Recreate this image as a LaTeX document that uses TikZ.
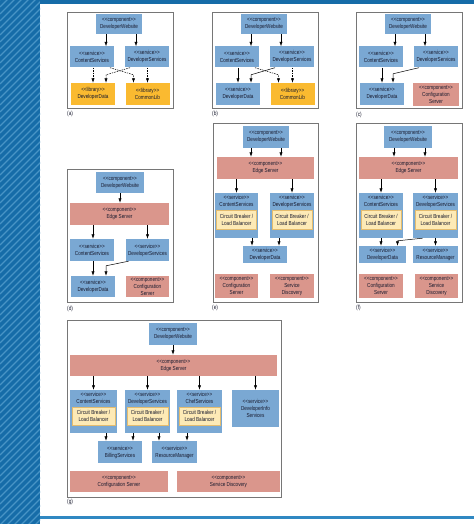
\documentclass[tikz,border=0pt]{standalone}
\usepackage{fontspec}
\newfontfamily\boxfont{Liberation Sans}[FakeStretch=0.8]
\usetikzlibrary{arrows.meta}
\definecolor{svcblue}{RGB}{122,168,211}
\definecolor{compred}{RGB}{218,150,140}
\definecolor{libyellow}{RGB}{250,186,48}
\definecolor{cbcream}{RGB}{253,234,182}
\definecolor{cbedge}{RGB}{228,188,110}
\definecolor{frmgray}{RGB}{118,118,118}
\definecolor{textdark}{RGB}{24,26,46}
\definecolor{edgeblue}{RGB}{22,108,168}
\definecolor{stripeblue}{RGB}{72,148,198}
\definecolor{lineblue}{RGB}{48,136,194}

\begin{document}
\begin{tikzpicture}
  [
    x = 1pt, y = -1pt,
    every node/.style = {inner sep=0pt, align=center, text=textdark,
                         font=\boxfont\fontsize{5.8}{7}\selectfont},
    svc/.style = {fill=svcblue},
    comp/.style = {fill=compred},
    lib/.style = {fill=libyellow},
    cbox/.style = {fill=cbcream, draw=cbedge, line width=0.4pt},
    frm/.style = {draw=frmgray, line width=0.8pt},
    arr/.style = {-{Latex[length=4.5pt,width=3.2pt]}, line width=0.5pt},
    dep/.style = {arr, dash pattern=on 1.5pt off 1pt},
    stripe/.style = {draw=stripeblue, line width=1.3pt},
    tag/.style = {anchor=west, font=\boxfont\fontsize{6}{7}\selectfont}
  ]
  % page and border
  \useasboundingbox (0,0) rectangle (474,524);
  \fill[white] (0,0) rectangle (474,524);
  \fill[edgeblue] (0,0) rectangle (40,524);
  \begin{scope}
    \clip (0,0) rectangle (40,524);
    \foreach \k in {0,7,...,574} \draw[stripe] (0,\k) -- ++(48,-48);
  \end{scope}
  \fill[edgeblue] (40,0) rectangle (474,4);
  \fill[lineblue] (40,515.5) rectangle (474,519);

  % (a)
  \draw[frm] (67,12) rectangle (173,108);
  \node[svc, minimum width=46, minimum height=20] (dwa) at (119,24) {<<component>>\\DeveloperWebsite};
  \node[svc, minimum width=44, minimum height=21] (csa) at (92,57) {<<service>>\\ContentServices};
  \node[svc, minimum width=44, minimum height=21] (dsa) at (147,57) {<<service>>\\DeveloperServices};
  \node[lib, minimum width=44, minimum height=22] (dda) at (93,94) {<<library>>\\DeveloperData};
  \node[lib, minimum width=44, minimum height=22] (cla) at (147.5,94) {<<library>>\\CommonLib};
  \draw[arr] ([xshift=-13pt]dwa.south) -- ([xshift=-13pt]dwa.south |- csa.north);
  \draw[arr] ([xshift=17pt]dwa.south) -- ([xshift=17pt]dwa.south |- dsa.north);
  \draw[dep] (csa.south -| dda.north) -- (dda.north);
  \draw[dep] ([xshift=18pt]csa.south) -- ([xshift=-14pt,yshift=8pt]cla.north) -- ([xshift=-14pt]cla.north);
  \draw[dep] ([xshift=-17pt]dsa.south) -- ([xshift=13pt,yshift=8pt]dda.north) -- ([xshift=13pt]dda.north);
  \draw[dep] (dsa.south -| cla.north) -- (cla.north);
  \node[tag] (taga) at (67,113.5) {(a)};

  % (b)
  \begin{scope}[xshift=145pt]
    \draw[frm] (67,12) rectangle (173,108);
    \node[svc, minimum width=46, minimum height=20] (dwb) at (119,24) {<<component>>\\DeveloperWebsite};
    \node[svc, minimum width=44, minimum height=21] (csb) at (92,57) {<<service>>\\ContentServices};
    \node[svc, minimum width=44, minimum height=21] (dsb) at (147,57) {<<service>>\\DeveloperServices};
    \node[svc, minimum width=44, minimum height=22] (ddb) at (93,94) {<<service>>\\DeveloperData};
    \node[lib, minimum width=44, minimum height=22] (clb) at (147.5,94) {<<library>>\\CommonLib};
    \draw[arr] ([xshift=-13pt]dwb.south) -- ([xshift=-13pt]dwb.south |- csb.north);
    \draw[arr] ([xshift=17pt]dwb.south) -- ([xshift=17pt]dwb.south |- dsb.north);
    \draw[arr] (csb.south -| ddb.north) -- (ddb.north);
    \draw[dep] ([xshift=18pt]csb.south) -- ([xshift=-14pt,yshift=8pt]clb.north) -- ([xshift=-14pt]clb.north);
    \draw[arr] ([xshift=-17pt]dsb.south) -- ([xshift=13pt,yshift=8pt]ddb.north) -- ([xshift=13pt]ddb.north);
    \draw[dep] (dsb.south -| clb.north) -- (clb.north);
    \node[tag] (tagb) at (67,113.5) {(b)};
  \end{scope}

  % (c)
  \begin{scope}[xshift=289pt]
    \draw[frm] (67,12) rectangle (173,108);
    \node[svc, minimum width=46, minimum height=20] (dwc) at (119,24) {<<component>>\\DeveloperWebsite};
    \node[svc, minimum width=44, minimum height=21] (csc) at (92,57) {<<service>>\\ContentServices};
    \node[svc, minimum width=44, minimum height=21] (dsc) at (147,57) {<<service>>\\DeveloperServices};
    \node[svc, minimum width=44, minimum height=22] (ddc) at (93,94) {<<service>>\\DeveloperData};
    \node[comp, minimum width=46, minimum height=23] (cfc) at (147,94.5) {<<component>>\\Configuration\\Server};
    \draw[arr] ([xshift=-13pt]dwc.south) -- ([xshift=-13pt]dwc.south |- csc.north);
    \draw[arr] ([xshift=17pt]dwc.south) -- ([xshift=17pt]dwc.south |- dsc.north);
    \draw[arr] (csc.south -| ddc.north) -- (ddc.north);
    \draw[arr] ([xshift=-17pt]dsc.south) -- ([xshift=11pt,yshift=9pt]ddc.north) -- ([xshift=11pt]ddc.north);
    \node[tag] (tagc) at (67,114.5) {(c)};
  \end{scope}

  % (d)
  \draw[frm] (67,169) rectangle (173,302);
  \node[svc, minimum width=48, minimum height=21] (dwd) at (120,182.5) {<<component>>\\DeveloperWebsite};
  \node[comp, minimum width=99, minimum height=22] (esd) at (119.5,214) {<<component>>\\Edge Server};
  \node[svc, minimum width=44, minimum height=22] (csd) at (92,250) {<<service>>\\ContentServices};
  \node[svc, minimum width=43, minimum height=22] (dsd) at (147.5,250) {<<service>>\\DeveloperServices};
  \node[svc, minimum width=44, minimum height=21] (ddd) at (93,286.5) {<<service>>\\DeveloperData};
  \node[comp, minimum width=43, minimum height=21] (cfd) at (147.5,286.5) {<<component>>\\Configuration\\Server};
  \draw[arr] (dwd.south) -- (dwd.south |- esd.north);
  \draw[arr] (esd.south -| ddd.north) -- (csd.north -| ddd.north);
  \draw[arr] (esd.south -| dsd.north) -- (dsd.north);
  \draw[arr] (csd.south -| ddd.north) -- (ddd.north);
  \draw[arr] ([xshift=-19pt]dsd.south) -- ([xshift=13pt,yshift=10pt]ddd.north) -- ([xshift=13pt]ddd.north);
  \node[tag] (tagd) at (67,309) {(d)};

  % (e)
  \draw[frm] (213,123) rectangle (318,302);
  \node[svc, minimum width=46, minimum height=22] (dwe) at (266,136.5) {<<component>>\\DeveloperWebsite};
  \node[comp, minimum width=97, minimum height=22] (ese) at (265.5,168) {<<component>>\\Edge Server};
  \node[svc, minimum width=43, minimum height=45] (cse) at (236.5,215.5) {};
  \node[anchor=north] (csetxt) at ([yshift=-2pt]cse.north) {<<service>>\\ContentServices};
  \node[cbox, minimum width=40, minimum height=19] (cbe1) at ([yshift=-4pt]cse.center) {Circuit Breaker /\\Load Balancer};
  \node[svc, minimum width=44, minimum height=45] (dse) at (292,215.5) {};
  \node[anchor=north] (dsetxt) at ([yshift=-2pt]dse.north) {<<service>>\\DeveloperServices};
  \node[cbox, minimum width=40, minimum height=19] (cbe2) at ([yshift=-4pt]dse.center) {Circuit Breaker /\\Load Balancer};
  \node[svc, minimum width=44, minimum height=17] (dde) at (265,254.5) {<<service>>\\DeveloperData};
  \node[comp, minimum width=43, minimum height=24] (cfe) at (236.5,286) {<<component>>\\Configuration\\Server};
  \node[comp, minimum width=44, minimum height=24] (sde) at (292,286) {<<component>>\\Service\\Discovery};
  \draw[arr] ([xshift=-15pt]dwe.south) -- ([xshift=-15pt]dwe.south |- ese.north);
  \draw[arr] ([xshift=15pt]dwe.south) -- ([xshift=15pt]dwe.south |- ese.north);
  \draw[arr] (ese.south -| cse.north) -- (cse.north);
  \draw[arr] (ese.south -| dse.north) -- (dse.north);
  \draw[arr] ([xshift=-13pt]dde.north |- cse.south) -- ([xshift=-13pt]dde.north);
  \draw[arr] ([xshift=14pt]dde.north |- dse.south) -- ([xshift=14pt]dde.north);
  \node[tag] (tage) at (212,308) {(e)};

  % (f)
  \draw[frm] (356,123) rectangle (462,302);
  \node[svc, minimum width=48, minimum height=22] (dwf) at (408,136.5) {<<component>>\\DeveloperWebsite};
  \node[comp, minimum width=99, minimum height=22] (esf) at (408.5,168) {<<component>>\\Edge Server};
  \node[svc, minimum width=44, minimum height=45] (csf) at (381,215.5) {};
  \node[anchor=north] (csftxt) at ([yshift=-2pt]csf.north) {<<service>>\\ContentServices};
  \node[cbox, minimum width=40, minimum height=19] (cbf1) at ([yshift=-4pt]csf.center) {Circuit Breaker /\\Load Balancer};
  \node[svc, minimum width=45, minimum height=45] (dsf) at (435.5,215.5) {};
  \node[anchor=north] (dsftxt) at ([yshift=-2pt]dsf.north) {<<service>>\\DeveloperServices};
  \node[cbox, minimum width=41, minimum height=19] (cbf2) at ([yshift=-4pt]dsf.center) {Circuit Breaker /\\Load Balancer};
  \node[svc, minimum width=47, minimum height=17] (ddf) at (382.5,254.5) {<<service>>\\DeveloperData};
  \node[svc, minimum width=45, minimum height=17] (rmf) at (435.5,254.5) {<<service>>\\ResourceManager};
  \node[comp, minimum width=44, minimum height=24] (cff) at (381,286) {<<component>>\\Configuration\\Server};
  \node[comp, minimum width=43, minimum height=24] (sdf) at (436.5,286) {<<component>>\\Service\\Discovery};
  \draw[arr] ([xshift=-14pt]dwf.south) -- ([xshift=-14pt]dwf.south |- esf.north);
  \draw[arr] ([xshift=17pt]dwf.south) -- ([xshift=17pt]dwf.south |- esf.north);
  \draw[arr] (esf.south -| csf.north) -- (csf.north);
  \draw[arr] (esf.south -| dsf.north) -- (dsf.north);
  \draw[arr] (csf.south) -- (csf.south |- ddf.north);
  \draw[arr] ([xshift=-13pt]dsf.south) -- ([xshift=15pt,yshift=5pt]ddf.north) -- ([xshift=15pt]ddf.north);
  \draw[arr] (dsf.south) -- (rmf.north);
  \node[tag] (tagf) at (356,308) {(f)};

  % (g)
  \draw[frm] (67,320) rectangle (281,497);
  \node[svc, minimum width=48, minimum height=22] (dwg) at (173,334) {<<component>>\\DeveloperWebsite};
  \node[comp, minimum width=207, minimum height=21] (esg) at (173.5,365.5) {<<component>>\\Edge Server};
  \node[svc, minimum width=47, minimum height=43] (csg) at (93.5,411.5) {};
  \node[anchor=north] (csgtxt) at ([yshift=-2pt]csg.north) {<<service>>\\ContentServices};
  \node[cbox, minimum width=43, minimum height=18] (cbg1) at ([yshift=-4.5pt]csg.center) {Circuit Breaker /\\Load Balancer};
  \node[svc, minimum width=45, minimum height=43] (dsg) at (147.5,411.5) {};
  \node[anchor=north] (dsgtxt) at ([yshift=-2pt]dsg.north) {<<service>>\\DeveloperServices};
  \node[cbox, minimum width=41, minimum height=18] (cbg2) at ([yshift=-4.5pt]dsg.center) {Circuit Breaker /\\Load Balancer};
  \node[svc, minimum width=45, minimum height=43] (chg) at (199.5,411.5) {};
  \node[anchor=north] (chgtxt) at ([yshift=-2pt]chg.north) {<<service>>\\ChefServices};
  \node[cbox, minimum width=41, minimum height=18] (cbg3) at ([yshift=-4.5pt]chg.center) {Circuit Breaker /\\Load Balancer};
  \node[svc, minimum width=47, minimum height=37] (dig) at (255.5,408.5) {<<service>>\\DeveloperInfo\\Services};
  \node[svc, minimum width=44, minimum height=22] (big) at (120,452) {<<service>>\\BillingServices};
  \node[svc, minimum width=45, minimum height=22] (rmg) at (174.5,452) {<<service>>\\ResourceManager};
  \node[comp, minimum width=98, minimum height=21] (cfg) at (119,481.5) {<<component>>\\Configuration Server};
  \node[comp, minimum width=103, minimum height=21] (sdg) at (228.5,481.5) {<<component>>\\Service Discovery};
  \draw[arr] (dwg.south) -- (dwg.south |- esg.north);
  \draw[arr] (esg.south -| csg.north) -- (csg.north);
  \draw[arr] (esg.south -| dsg.north) -- (dsg.north);
  \draw[arr] (esg.south -| chg.north) -- (chg.north);
  \draw[arr] (esg.south -| dig.north) -- (dig.north);
  \draw[arr] ([xshift=-14pt]big.north |- csg.south) -- ([xshift=-14pt]big.north);
  \draw[arr] ([xshift=13pt]big.north |- dsg.south) -- ([xshift=13pt]big.north);
  \draw[arr] ([xshift=-15.5pt]rmg.north |- dsg.south) -- ([xshift=-15.5pt]rmg.north);
  \draw[arr] ([xshift=12.5pt]rmg.north |- chg.south) -- ([xshift=12.5pt]rmg.north);
  \node[tag] (tagg) at (67,502) {(g)};
\end{tikzpicture}
\end{document}
